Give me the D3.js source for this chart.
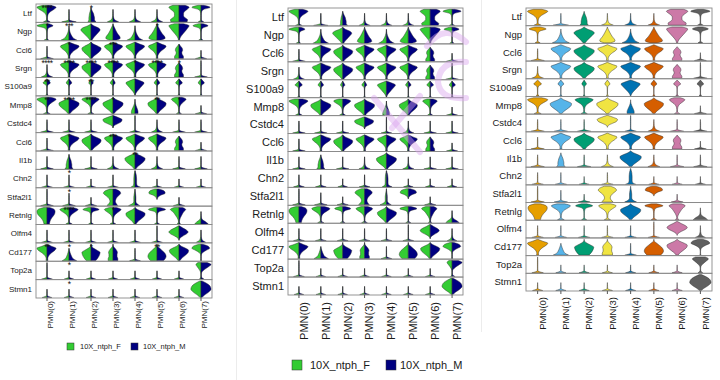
<!DOCTYPE html>
<html><head><meta charset="utf-8">
<script src="https://cdn.jsdelivr.net/npm/d3@7"></script>
<style>html,body{margin:0;padding:0;background:#fff;}svg{display:block;font-family:"Liberation Sans",Arial,sans-serif;}</style>
</head><body>
<svg id="chart" width="720" height="380"></svg>
<script>
// ---------------- DATA ----------------
const genes = ["Ltf","Ngp","Ccl6","Srgn","S100a9","Mmp8","Cstdc4","Ccl6","Il1b","Chn2","Stfa2l1","Retnlg","Olfm4","Cd177","Top2a","Stmn1"];
const clusters = ["PMN(0)","PMN(1)","PMN(2)","PMN(3)","PMN(4)","PMN(5)","PMN(6)","PMN(7)"];
const groups = ["10X_ntph_F","10X_ntph_M"];
const groupColors = ["#33cc33","#000080"];
const clusterColors = ["#E69F00","#56B4E9","#009E73","#F0E442","#0072B2","#D55E00","#CC79A7","#5f5f5f"];

// expression levels (fraction of row) at which violin densities are read
const densityLevels = [0, 0.125, 0.25, 0.375, 0.5, 0.625, 0.75, 0.875, 1];
// density profiles (half-width, bottom -> top)
const shapeProfiles = {
  S:[0.9,0.05,0.03,0.03,0.03,0.02,0,0,0],
  T:[0.9,0.05,0.03,0.03,0.03,0.03,0.03,0.02,0],
  L:[0.8,0.04,0.03,0.02,0,0,0,0,0],
  X:[0.8,0.25,0.1,0.04,0.03,0.02,0,0,0],
  P:[0.35,0.05,0.05,0.08,0.18,0.4,0.75,1.0,0.4],
  Q:[0.3,0.03,0.03,0.03,0.04,0.08,0.3,1.0,0.3],
  H:[0.2,0.03,0.03,0.03,0.05,0.15,0.55,0.3,0],
  N:[0.5,0.35,0.35,0.3,0.25,0.15,0.06,0,0],
  V:[0.8,0.85,0.6,0.45,0.45,0.55,0.8,1.0,0.6],
  B:[1.0,0.55,0.35,0.22,0.12,0.06,0.02,0,0],
  D:[0.1,0.08,0.15,0.3,0.55,0.85,1.0,0.5,0],
  M:[0.1,0.25,0.5,0.75,0.95,1.0,0.7,0.25,0],
  R:[0.1,0.25,0.45,0.65,0.85,1.0,0.8,0.3,0],
  K:[0.35,0.9,0.8,0.6,0.45,0.32,0.2,0.08,0],
  I:[0.05,0.1,0.22,0.38,0.55,0.72,0.88,1.0,0.45],
  G:[0.55,0.55,0.4,0.35,0.45,0.4,0.2,0,0],
  F:[0.02,0.1,0.25,0.45,0.65,0.85,1.0,0.6,0],
  U:[0.6,0.6,0.5,0.35,0.2,0.08,0.02,0,0],
  E:[0,0,0,0.1,0.5,0.9,1.0,0.6,0.05],
  W:[0.7,0.25,0.2,0.2,0.2,0.18,0.15,0.08,0.02],
  Y:[0.6,0.4,0.3,0.35,0.5,0.75,0.95,0.8,0.3],
  Z:[0.8,0.3,0.15,0.15,0.15,0.12,0.08,0.03,0],
  J:[0,0,0,0,0.1,0.4,0.9,0.8,0.2],
  C:[0.3,0.35,0.45,0.6,0.8,0.95,1.0,0.9,0.3],
  O:[0.2,0.05,0.1,0.2,0.35,0.5,0.7,0.95,0.5],
  A:[0.9,0.6,0.2,0.06,0.03,0.02,0,0,0],
  e:[0,0,0.1,0.4,0.8,1.0,0.8,0.4,0.05],
  h:[0.5,0.7,0.85,0.95,1.0,0.7,0.3,0.05,0],
  b:[0.6,0.6,0.5,0.5,0.55,0.45,0.25,0.05,0],
  d:[0.7,0.9,1.0,0.95,0.8,0.55,0.3,0.05,0],
  c:[0.85,0.45,0.3,0.2,0.12,0.05,0,0,0],
  t:[0.3,0.05,0.03,0.05,0.2,0.45,0.75,1.0,0.6],
  s:[0.1,0.3,0.6,0.85,1.0,0.95,0.8,0.5,0.1],
  l:[0.05,0.02,0.02,0.05,0.2,0.55,0.95,0.8,0.2]
};
// shape of each gene x cluster violin ("n" = no cells)
const violinShapes = [
  "PSNXXXVQ","QBRKBKIQ","SDMDDDGL","XDMDDDGT","HHHHFHHH","PMPMUMPL","SSSETXSS","SDMDDDGL",
  "SNSXMXSS","SSLSWLLL","TSLYZJLn","CPQPMQOA","SSSSSTeX","DchbSdMl","TLLLLLLt","LLLLLLLs"
];
// relative width of the female / male halves
const widthF = [
  [1,.8,.6,.7,.7,.7,1,.9],[1,.8,1,.8,.8,.9,1,.8],[.7,.85,.9,.85,.9,.85,.8,.7],[.7,.85,.9,.85,.9,.85,.8,.7],
  [.7,.5,.4,.5,.9,.5,.6,.5],[1,1,.9,1,.6,.9,.75,.7],[.7,.7,.7,1,.6,.7,.7,.7],[.7,.85,.9,.85,.9,.85,.8,.7],
  [.7,.8,.7,.7,1,.7,.7,.7],[.6,.6,.6,.6,.6,.6,.6,.6],[.7,.7,.7,1,.8,.9,.7,0],[1,.9,.8,.85,.9,.85,.9,.7],
  [.6,.6,.6,.6,.6,.6,1,.6],[1,.8,.9,.8,.6,.9,.95,.95],[.6,.6,.6,.6,.6,.6,.6,.5],[.6,.6,.6,.6,.6,.6,.6,1]
];
const widthM = [
  [.9,.8,1,.7,.7,.7,1,.9],[.6,.8,.9,.8,.8,.9,1,.7],[.7,1,1,.95,.95,.9,.8,.7],[.7,1,1,.95,.95,.9,.8,.7],
  [.6,.5,.4,.4,.9,.5,.6,.6],[.9,1,.8,1,.5,.9,.7,.7],[.7,.7,.7,.9,.6,.7,.7,.7],[.7,1,1,.95,.95,.9,.8,.7],
  [.7,.8,.7,.7,1,.7,.7,.7],[.6,.6,.6,.6,.8,.6,.6,.6],[.7,.7,.7,.8,.6,.9,.7,0],[.8,.9,.8,.8,1,.85,.7,.8],
  [.6,.6,.6,.6,.6,.6,.9,.6],[.9,.9,.9,.8,.6,.9,.95,.9],[.6,.6,.6,.6,.6,.6,.6,1],[.6,.6,.6,.6,.6,.6,.6,1]
];
// significance marks (panel 1)
const stars = [
  ["****","","*","","","","",""],["*","***","","","","*","",""],["","*","","***","","","",""],
  ["****","****","****","****","*","****","*",""],["**","","**","","","","",""],["**","****","****","*","","**","*",""],
  ["","","","","","","",""],["","*","","***","","","",""],["","","","","**","","",""],
  ["","*","","","","","",""],["","*","","","","","",""],["","****","","*","","","",""],
  ["","","","","","","",""],["**","*","*","","","**","",""],["","*","","","","","",""],["","*","","","","","",""]
];

// ---------------- LAYOUT ----------------
const panels = [
  {left:36, right:212, top:4, bottom:298, geneFont:8, xFont:8, labelY:301, labelDx:3, split:true, stars:true,
   legend:{y:343, size:7, font:7.5, x:[67,131], tx:[80,143]}},
  {left:288, right:463, top:8, bottom:295, geneFont:11, xFont:11, labelY:302, labelDx:5, split:true, stars:false,
   legend:{y:360, size:10, font:11, x:[292,386], tx:[310,400]}},
  {left:526, right:712, top:8, bottom:291, geneFont:9.5, xFont:9.5, labelY:297, labelDx:5, split:false, stars:false}
];

const svg = d3.select("#chart");

// faint frames of the composed figure
svg.append("line").attr("x1",236.5).attr("x2",236.5).attr("y1",0).attr("y2",380).attr("stroke","#ececec");
svg.append("line").attr("x1",481.5).attr("x2",481.5).attr("y1",0).attr("y2",332).attr("stroke","#ececec");

function trimmed(prof){
  let i0 = prof.findIndex(v=>v>0), i1 = prof.length-1;
  while(i1>0 && prof[i1]===0) i1--;
  const a = Math.max(0,i0-1), b = Math.min(prof.length-1,i1+1);
  const out=[];
  for(let k=a;k<=b;k++) out.push({lvl:densityLevels[k], v:prof[k]});
  return out;
}

panels.forEach(cfg=>{
  const g = svg.append("g");
  const gv = g.append("g"), gb = g.append("g"), gs = g.append("g");
  const x = d3.scaleBand().domain(clusters).range([cfg.left,cfg.right]);
  const rows = d3.scaleBand().domain(d3.range(genes.length)).range([cfg.top,cfg.bottom]);
  const rh = rows.bandwidth();
  const halfW = x.bandwidth()*0.46;
  const ws = d3.scaleLinear().domain([0,1]).range([0,halfW]);

  genes.forEach((gene,gi)=>{
    const y0 = rows(gi);
    const lv = d3.scaleLinear().domain([0,1]).range([y0+rh-0.5, y0+1.3]);
    clusters.forEach((cl,ci)=>{
      const code = violinShapes[gi][ci];
      const cx = x(cl)+x.bandwidth()/2;
      if(cfg.stars && stars[gi][ci]){
        gs.append("text").attr("x",cx).attr("y",y0+7).attr("text-anchor","middle")
          .attr("font-size",8.5).attr("fill","#111").attr("letter-spacing",-0.6).text(stars[gi][ci]);
      }
      if(code==="n") return;
      const pts = trimmed(shapeProfiles[code]);
      if(cfg.split){
        const fF = widthF[gi][ci], fM = widthM[gi][ci];
        const aF = d3.area().curve(d3.curveMonotoneY).y(d=>lv(d.lvl))
          .x0(d=>cx-ws(d.v*fF)).x1(()=>cx);
        const aM = d3.area().curve(d3.curveMonotoneY).y(d=>lv(d.lvl))
          .x0(()=>cx).x1(d=>cx+ws(d.v*fM));
        gv.append("path").attr("d",aF(pts)).attr("fill",groupColors[0]).attr("stroke","#2a2a2a").attr("stroke-width",0.45);
        gv.append("path").attr("d",aM(pts)).attr("fill",groupColors[1]).attr("stroke","#2a2a2a").attr("stroke-width",0.45);
      } else {
        const f = (widthF[gi][ci]+widthM[gi][ci])/2;
        const a = d3.area().curve(d3.curveMonotoneY).y(d=>lv(d.lvl))
          .x0(d=>cx-ws(d.v*f)).x1(d=>cx+ws(d.v*f));
        gv.append("path").attr("d",a(pts)).attr("fill",clusterColors[ci]).attr("stroke","#2a2a2a").attr("stroke-width",0.45);
      }
    });
    // row panel border
    gb.append("rect").attr("x",cfg.left).attr("y",y0).attr("width",cfg.right-cfg.left).attr("height",rh)
      .attr("fill","none").attr("stroke","#8a8a8a").attr("stroke-width",0.9);
    // gene label
    g.append("text").attr("x",cfg.left-4).attr("y",y0+rh/2).attr("dy","0.35em").attr("text-anchor","end")
      .attr("font-size",cfg.geneFont).attr("fill","#1a1a1a").text(gene);
  });

  // x axis ticks and labels
  const axis = g.append("g").attr("transform",`translate(0,${cfg.bottom})`)
    .call(d3.axisBottom(x).tickSize(3).tickFormat(""));
  axis.select(".domain").remove();
  axis.selectAll(".tick line").attr("stroke","#555");
  clusters.forEach(cl=>{
    const cx = x(cl)+x.bandwidth()/2 + cfg.labelDx;
    g.append("text").attr("transform",`translate(${cx},${cfg.labelY}) rotate(-90)`)
      .attr("text-anchor","end").attr("dy","0.35em").attr("font-size",cfg.xFont).attr("fill","#1a1a1a").text(cl);
  });

  if(cfg.legend){
    const L = cfg.legend;
    groups.forEach((grp,k)=>{
      g.append("rect").attr("x",L.x[k]).attr("y",L.y).attr("width",L.size).attr("height",L.size)
        .attr("fill",groupColors[k]).attr("stroke","#333").attr("stroke-width",0.5);
      g.append("text").attr("x",L.tx[k]).attr("y",L.y+L.size/2).attr("dy","0.35em")
        .attr("font-size",L.font).attr("fill","#1a1a1a").text(grp);
    });
  }
});

// watermark strokes over the middle panel
const wm = svg.append("g").attr("fill","none").attr("stroke","#d9a3ee").attr("stroke-opacity",0.45)
  .attr("stroke-width",6).attr("stroke-linecap","round");
wm.append("path").attr("d","M427,46 Q445,22 466,42");
wm.append("path").attr("d","M466,62 Q440,60 438,82 Q440,100 466,98");
wm.append("path").attr("d","M374,98 L420,152");
wm.append("path").attr("d","M420,96 L392,128");
</script>
</body></html>
